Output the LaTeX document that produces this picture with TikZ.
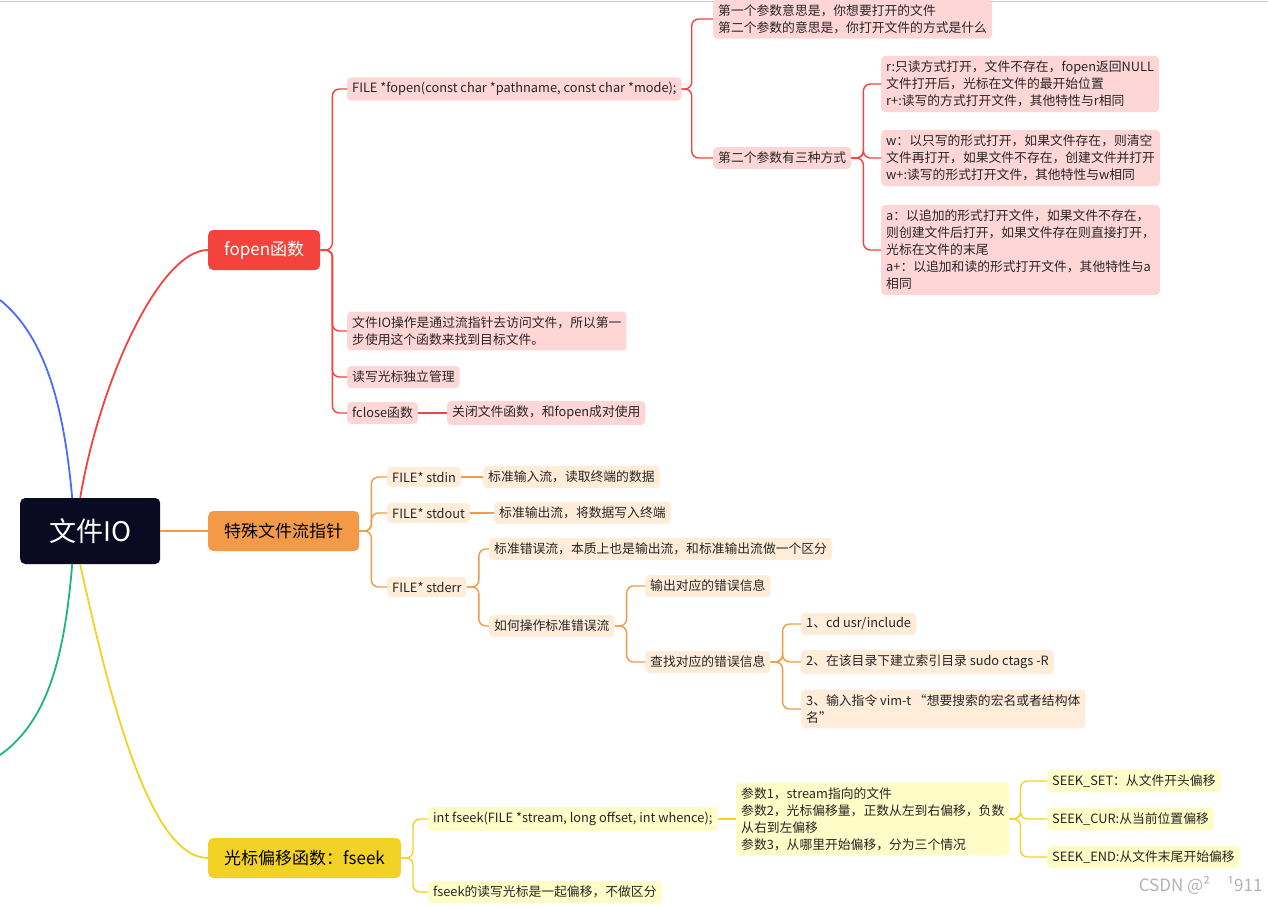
\documentclass[tikz,border=0pt]{standalone}
\usepackage{fontspec}
\setmainfont{Noto Sans CJK SC}
\begin{document}
\begin{tikzpicture}[x=1pt,y=-1pt,
  box/.style={anchor=west,align=left,rounded corners=4pt,inner xsep=5pt,inner ysep=5pt,font=\fontsize{12.8}{17}\selectfont,text=black!85},
  pk/.style={box,fill=red!16!white},
  og/.style={box,fill=orange!15!white},
  yl/.style={box,fill=yellow!22!white},
  main/.style={anchor=west,rounded corners=5pt,inner xsep=16pt,minimum height=40pt,font=\fontsize{17}{20}\selectfont},
  rl/.style={draw=red!75!orange,line width=1.4pt,rounded corners=7pt},
  ol/.style={draw=orange!80!red!70!yellow,line width=1.4pt,rounded corners=7pt},
  yln/.style={draw=yellow!80!orange,line width=1.4pt,rounded corners=7pt}]
\useasboundingbox (0,0) rectangle (1268,907);
\definecolor{cred}{HTML}{F4433C}\definecolor{cor}{HTML}{F39A48}\definecolor{cye}{HTML}{F2D225}
\definecolor{cbl}{HTML}{4A6CF7}\definecolor{cgr}{HTML}{1AB870}
\draw[draw=gray!40] (0,1)--(1268,1);
% root
\node[anchor=west,fill={rgb,255:red,10;green,10;blue,35},text=white,rounded corners=5pt,minimum width=140pt,minimum height=66pt,font=\fontsize{27}{30}\selectfont] (root) at (20,531) {文件IO};
\node[main,fill=cred,text=white] (fo) at (208,250) {fopen函数};
\node[main,fill=cor,text=black] (sp) at (208,531) {特殊文件流指针};
\node[main,fill=cye,text=black] (fs) at (208,858) {光标偏移函数：fseek};
\coordinate (bl) at (0,300); \coordinate (gr) at (0,755);
\draw[line width=1.8pt,cred] ([xshift=-10pt]root.north) .. controls (100,380) and (160,250) .. (fo.west);
\draw[line width=1.8pt,cor] (root.east) -- (sp.west);
\draw[line width=1.8pt,cye] ([xshift=-10pt]root.south) .. controls (110,700) and (150,858) .. (fs.west);
\draw[line width=1.8pt,cbl] ([xshift=-18pt]root.north) .. controls (65,420) and (50,340) .. (bl);
\draw[line width=1.8pt,cgr] ([xshift=-18pt]root.south) .. controls (65,650) and (50,720) .. (gr);
% fopen
\node[pk] (f1) at (347,89) {FILE *fopen(const char *pathname, const char *mode);};
\node[pk] (f2) at (347,331) {文件IO操作是通过流指针去访问文件，所以第一\\步使用这个函数来找到目标文件。};
\node[pk] (f3) at (347,377) {读写光标独立管理};
\node[pk] (f4) at (347,413) {fclose函数};
\node[pk] (f5) at (447,413) {关闭文件函数，和fopen成对使用};
\node[pk] (g1) at (713,19) {第一个参数意思是，你想要打开的文件\\第二个参数的意思是，你打开文件的方式是什么};
\node[pk] (g2) at (713,158) {第二个参数有三种方式};
\node[pk] (h1) at (881,84) {r:只读方式打开，文件不存在，fopen返回NULL\\文件打开后，光标在文件的最开始位置\\r+:读写的方式打开文件，其他特性与r相同};
\node[pk] (h2) at (881,158) {w：以只写的形式打开，如果文件存在，则清空\\文件再打开，如果文件不存在，创建文件并打开\\w+:读写的形式打开文件，其他特性与w相同};
\node[pk] (h3) at (881,250) {a：以追加的形式打开文件，如果文件不存在，\\则创建文件后打开，如果文件存在则直接打开，\\光标在文件的末尾\\a+：以追加和读的形式打开文件，其他特性与a\\相同};
\foreach \c in {f1,f2,f3,f4} \draw[rl,cred] (fo.east) -- ++(12,0) |- (\c.west);
\draw[rl,cred] (f4.east) -- (f5.west);
\foreach \c in {g1,g2} \draw[rl,cred] (f1.east) -- ++(10,0) |- (\c.west);
\foreach \c in {h1,h2,h3} \draw[rl,cred] (g2.east) -- ++(12,0) |- (\c.west);
% special
\node[og] (s1) at (387,477) {FILE* stdin};
\node[og] (s1b) at (483,477) {标准输入流，读取终端的数据};
\node[og] (s2) at (387,513) {FILE* stdout};
\node[og] (s2b) at (494,513) {标准输出流，将数据写入终端};
\node[og] (s3) at (387,587) {FILE* stderr};
\node[og] (s3a) at (489,549) {标准错误流，本质上也是输出流，和标准输出流做一个区分};
\node[og] (s3b) at (489,626) {如何操作标准错误流};
\node[og] (t1) at (645,586) {输出对应的错误信息};
\node[og] (t2) at (645,662) {查找对应的错误信息};
\node[og] (u1) at (801,624) {1、cd usr/include};
\node[og] (u2) at (801,662) {2、在该目录下建立索引目录 sudo ctags -R};
\node[og] (u3) at (801,709) {3、输入指令 vim-t “想要搜索的宏名或者结构体\\名”};
\foreach \c in {s1,s2,s3} \draw[rl,cor] (sp.east) -- ++(12,0) |- (\c.west);
\draw[rl,cor] (s1.east) -- (s1b.west);
\draw[rl,cor] (s2.east) -- (s2b.west);
\foreach \c in {s3a,s3b} \draw[rl,cor] (s3.east) -- ++(12,0) |- (\c.west);
\foreach \c in {t1,t2} \draw[rl,cor] (s3b.east) -- ++(12,0) |- (\c.west);
\foreach \c in {u1,u2,u3} \draw[rl,cor] (t2.east) -- ++(12,0) |- (\c.west);
% fseek
\node[yl] (k1) at (428,819) {int fseek(FILE *stream, long offset, int whence);};
\node[yl] (k2) at (428,892) {fseek的读写光标是一起偏移，不做区分};
\node[yl] (p) at (736,819) {参数1，stream指向的文件\\参数2，光标偏移量，正数从左到右偏移，负数\\从右到左偏移\\参数3，从哪里开始偏移，分为三个情况};
\node[yl] (q1) at (1047,781) {SEEK\_SET：从文件开头偏移};
\node[yl] (q2) at (1047,819) {SEEK\_CUR:从当前位置偏移};
\node[yl] (q3) at (1047,857) {SEEK\_END:从文件末尾开始偏移};
\foreach \c in {k1,k2} \draw[rl,cye] (fs.east) -- ++(12,0) |- (\c.west);
\draw[rl,cye] (k1.east) -- (p.west);
\foreach \c in {q1,q2,q3} \draw[rl,cye] (p.east) -- ++(11,0) |- (\c.west);
\node[anchor=east,text=gray!60,font=\fontsize{17}{20}\selectfont] (wm) at (1266,885) {CSDN @²\quad ¹911};
\end{tikzpicture}
\end{document}
